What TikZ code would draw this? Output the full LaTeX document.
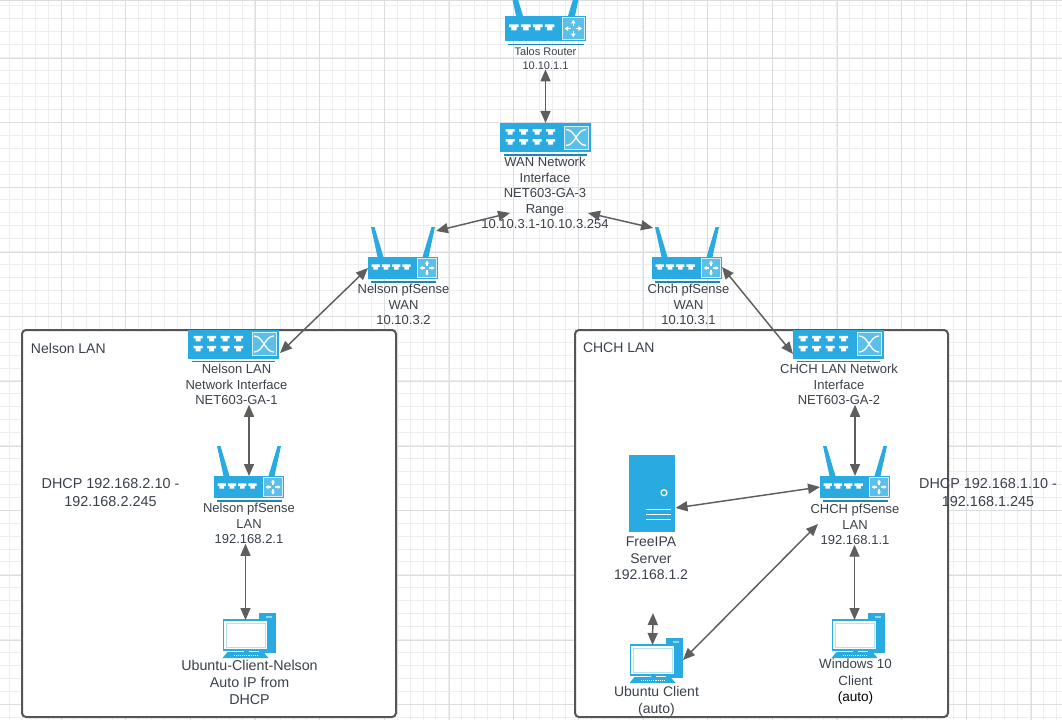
\documentclass[tikz,border=0pt]{standalone}
\usepackage{fontspec}
\setmainfont{Liberation Sans}
\usetikzlibrary{arrows.meta,calc}
\definecolor{devblue}{HTML}{29ABE2}
\definecolor{icofill}{HTML}{5BBFE9}
\definecolor{devline}{HTML}{1F87B5}
\definecolor{gridminor}{HTML}{EEEEF1}
\definecolor{gridmajor}{HTML}{DDDDE0}
\definecolor{txt}{HTML}{3A414A}
\definecolor{conn}{HTML}{5E5E5E}
\definecolor{frame}{HTML}{555555}
\tikzset{
  devbody/.style={fill=devblue,draw=none,inner sep=0pt,outer sep=0pt},
  lab/.style={text=txt,align=center,inner sep=0pt,outer sep=0pt,anchor=north},
  labA/.style={lab,font=\fontsize{10.5pt}{12.4pt}\selectfont},
  labB/.style={lab,font=\fontsize{9.75pt}{11.7pt}\selectfont},
  labC/.style={lab,font=\fontsize{8.25pt}{10pt}\selectfont},
  link/.style={draw=conn,line width=1.1pt,{Triangle[length=9pt,width=7.5pt]}-{Triangle[length=9pt,width=7.5pt]}},
  lanbox/.style={draw=frame,fill=white,line width=1.5pt,rounded corners=3pt},
  wline/.style={draw=white,line width=1pt}
}
% white port glyph
\newcommand{\portglyph}[3]{% x y scale
  \fill[white] ($(#1,#2)+(-3.6*#3,-2.2*#3)$) -- ++(7.2*#3,0) -- ++(0,2*#3) -- ++(-1.6*#3,0) -- ++(0,2.4*#3) -- ++(-4*#3,0) -- ++(0,-2.4*#3) -- ++(-1.6*#3,0) -- cycle;}
% router: name, cx, cy, scale
\newcommand{\routerdev}[4]{%
\begin{scope}[shift={(#2,#3)},scale=#4]
  \fill[devblue] (-32,-41) -- (-28.5,-41) -- (-19.5,-11) -- (-25.5,-11) -- cycle;
  \fill[devblue] (32,-41) -- (28.5,-41) -- (19.5,-11) -- (25.5,-11) -- cycle;
  \node[devbody,minimum width={#4*70*0.75pt},minimum height={#4*22*0.75pt}] (#1) at (0,0) {};
  \foreach \px in {-27.3,-17,-6.7,3.6}{\portglyph{\px}{-1}{1.15}}
  \fill[icofill] (14.5,-9.5) rectangle (33.5,9.5);
  \draw[draw=white!80!devblue,line width=.6pt] (14.5,-9.5) rectangle (33.5,9.5);
  \draw[wline] (24,-6.5) -- (24,6.5) (17.5,0) -- (30.5,0);
  \fill[white] (24,-7.5) -- (26,-4.5) -- (22,-4.5) -- cycle (24,7.5) -- (26,4.5) -- (22,4.5) -- cycle
     (16.5,0) -- (19.5,2) -- (19.5,-2) -- cycle (31.5,0) -- (28.5,2) -- (28.5,-2) -- cycle;
  \fill[icofill] (24,0) circle (2.2);
  \draw[devline,line width=1pt] (-32,14) -- (33,14);
\end{scope}}
% switch: name, cx, cy
\newcommand{\switchdev}[3]{%
\begin{scope}[shift={(#2,#3)}]
  \node[devbody,minimum width={91*0.75pt},minimum height={29*0.75pt}] (#1) at (0,0) {};
  \foreach \px in {-35.5,-22,-8.5,5}{\portglyph{\px}{-5.5}{1.25}\portglyph{\px}{4.5}{1.25}}
  \fill[icofill] (18.5,-11.5) rectangle (42.5,11.5);
  \draw[draw=white!80!devblue,line width=.6pt] (18.5,-11.5) rectangle (42.5,11.5);
  \draw[wline] (20.5,-8) .. controls (30,-8) and (31,8) .. (40.5,8);
  \draw[wline] (20.5,8) .. controls (30,8) and (31,-8) .. (40.5,-8);
  \draw[devline,line width=1pt] (-41.5,17.5) -- (41.5,17.5);
\end{scope}}
% pc: name, cx, cy of monitor
\newcommand{\pcdev}[3]{%
\begin{scope}[shift={(#2,#3)}]
  \fill[devblue] (13.5,-22) rectangle (30.5,18);
  \fill[white!50!devblue] (20,-19.5) rectangle (26,-17.5);
  \fill[devblue] (-2,14) rectangle (3,18);
  \fill[devblue] (-23,23) -- (-18,17) -- (18,17) -- (23,23) -- cycle;
  \draw[white,line width=.4pt,dash pattern=on .8pt off .8pt] (-12,20.5) -- (12,20.5);
  \node[fill=white,draw=devblue,line width=1.4pt,inner sep=0pt,outer sep=0pt,minimum width={44*0.75pt},minimum height={30*0.75pt}] (#1) at (0,0) {};
  \draw[draw=devblue!35,line width=.4pt] (-19.5,-12) rectangle (19.5,12);
\end{scope}}
\begin{document}
\begin{tikzpicture}[x=0.75pt,y=-0.75pt]
\useasboundingbox (0,0) rectangle (1062,720);
\clip (0,0) rectangle (1062,720);
\fill[white] (0,0) rectangle (1062,720);
% grid
\begin{scope}[line width=.75pt]
\foreach \i in {0,...,82}{\draw[gridminor] (9.3+12.93*\i,0) -- (9.3+12.93*\i,720);}
\foreach \i in {0,...,56}{\draw[gridminor] (0,6+12.93*\i) -- (1062,6+12.93*\i);}
\foreach \i in {0,...,16}{\draw[gridmajor] (61.3+64.65*\i,0) -- (61.3+64.65*\i,720);}
\foreach \i in {0,...,10}{\draw[gridmajor] (0,58.2+64.65*\i) -- (1062,58.2+64.65*\i);}
\draw[gridmajor] (0,1) -- (1062,1);
\end{scope}
% LAN frames
\draw[lanbox] (22,330) rectangle (396,717);
\draw[lanbox] (575,330) rectangle (948,717);
\node[lab,font=\fontsize{10.5pt}{12pt}\selectfont,anchor=north west] (nelsonTitle) at (31,343) {Nelson LAN};
\node[lab,font=\fontsize{10.5pt}{12pt}\selectfont,anchor=north west] (chchTitle) at (583,343) {CHCH LAN};
% devices
\routerdev{talos}{545.5}{28.5}{1.157}
\switchdev{wan}{545.5}{137.5}
\routerdev{nelsonWan}{403}{268}{1}
\routerdev{chchWan}{687}{268}{1}
\switchdev{nelsonLan}{233.5}{344}
\switchdev{chchLan}{838.5}{344}
\routerdev{nelsonPf}{249}{487}{1}
\routerdev{chchPf}{855}{487}{1}
\pcdev{ubuntuN}{245.5}{635}
\pcdev{ubuntuC}{652.5}{660}
\pcdev{winC}{854.5}{635}
% server
\node[devbody,minimum width={45.5*0.75pt},minimum height={77*0.75pt}] (ipa) at (652.2,493.5) {};
\draw[white,line width=.9pt] (664,492.7) circle (3);
\draw[white,line width=1.1pt] (646,509.3) -- (671,509.3) (646,514.3) -- (671,514.3) (646,519.3) -- (671,519.3);
% labels
\node[labC] (talosL) at (545.5,48) {Talos Router\\10.10.1.1};
\node[labB] (wanL) at (545,157) {WAN Network\\Interface\\NET603-GA-3\\Range\\10.10.3.1-10.10.3.254};
\node[labB] (nelsonWanL) at (403.5,284) {Nelson pfSense\\WAN\\10.10.3.2};
\node[labB] (chchWanL) at (688.5,284) {Chch pfSense\\WAN\\10.10.3.1};
\node[labB] (nelsonLanL) at (236.5,364) {Nelson LAN\\Network Interface\\NET603-GA-1};
\node[labB] (chchLanL) at (839,364) {CHCH LAN Network\\Interface\\NET603-GA-2};
\node[labB] (nelsonPfL) at (249,503) {Nelson pfSense\\LAN\\192.168.2.1};
\node[labB] (chchPfL) at (855,504) {CHCH pfSense\\LAN\\192.168.1.1};
\node[labA] (ipaL) at (651,537) {FreeIPA\\Server\\192.168.1.2};
\node[lab,font=\fontsize{10.7pt}{12.7pt}\selectfont] (ubuntuNL) at (249.5,660) {Ubuntu-Client-Nelson\\Auto IP from\\DHCP};
\node[lab,font=\fontsize{10.5pt}{12.7pt}\selectfont] (ubuntuCL) at (656.5,686) {Ubuntu Client\\(auto)};
\node[lab,font=\fontsize{10pt}{12.4pt}\selectfont] (winCL) at (855.5,659) {Windows 10\\Client\\{\color{black}\fontsize{10.2pt}{12.4pt}\selectfont (auto)}};
\node[lab,font=\fontsize{10.8pt}{13.5pt}\selectfont] (dhcpN) at (110.5,478) {DHCP 192.168.2.10 -\\192.168.2.245};
\node[lab,font=\fontsize{10.8pt}{13.5pt}\selectfont] (dhcpC) at (988,478) {DHCP 192.168.1.10 -\\192.168.1.245};
% free connector ends
\coordinate (nwAnt) at (436,231);
\coordinate (cwAnt) at (653,228);
\coordinate (wanLeft) at (510,213);
\coordinate (wanRight) at (588,213);
\coordinate (ipaPort) at (675.5,508);
\coordinate (pfLow) at (818,524);
\coordinate (ucTower) at (683,660);
\coordinate (ucUp) at (653,613);
\coordinate (nlRight) at (280,353);
\coordinate (clLeft) at (793,354);
\coordinate (cwRight) at (722,267);
% connectors
\draw[link] (talos.south |- talosL.south) -- (wan.north);
\draw[link] (wanLeft) -- (nwAnt);
\draw[link] (wanRight) -- (cwAnt);
\draw[link] (nelsonWan.west) -- (nlRight);
\draw[link] (cwRight) -- (clLeft);
\draw[link] (nelsonPf.north |- nelsonLanL.south) -- (nelsonPf.north);
\draw[link] (ubuntuN.north |- nelsonPfL.south) -- (ubuntuN.north);
\draw[link] (chchPf.north |- chchLanL.south) -- (chchPf.north);
\draw[link] (ipaPort) -- (chchPf.west);
\draw[link] (pfLow) -- (ucTower);
\draw[link] (winC.north |- chchPfL.south) -- (winC.north);
\draw[link] (ucUp) -- (ubuntuC.north);
\end{tikzpicture}
\end{document}
